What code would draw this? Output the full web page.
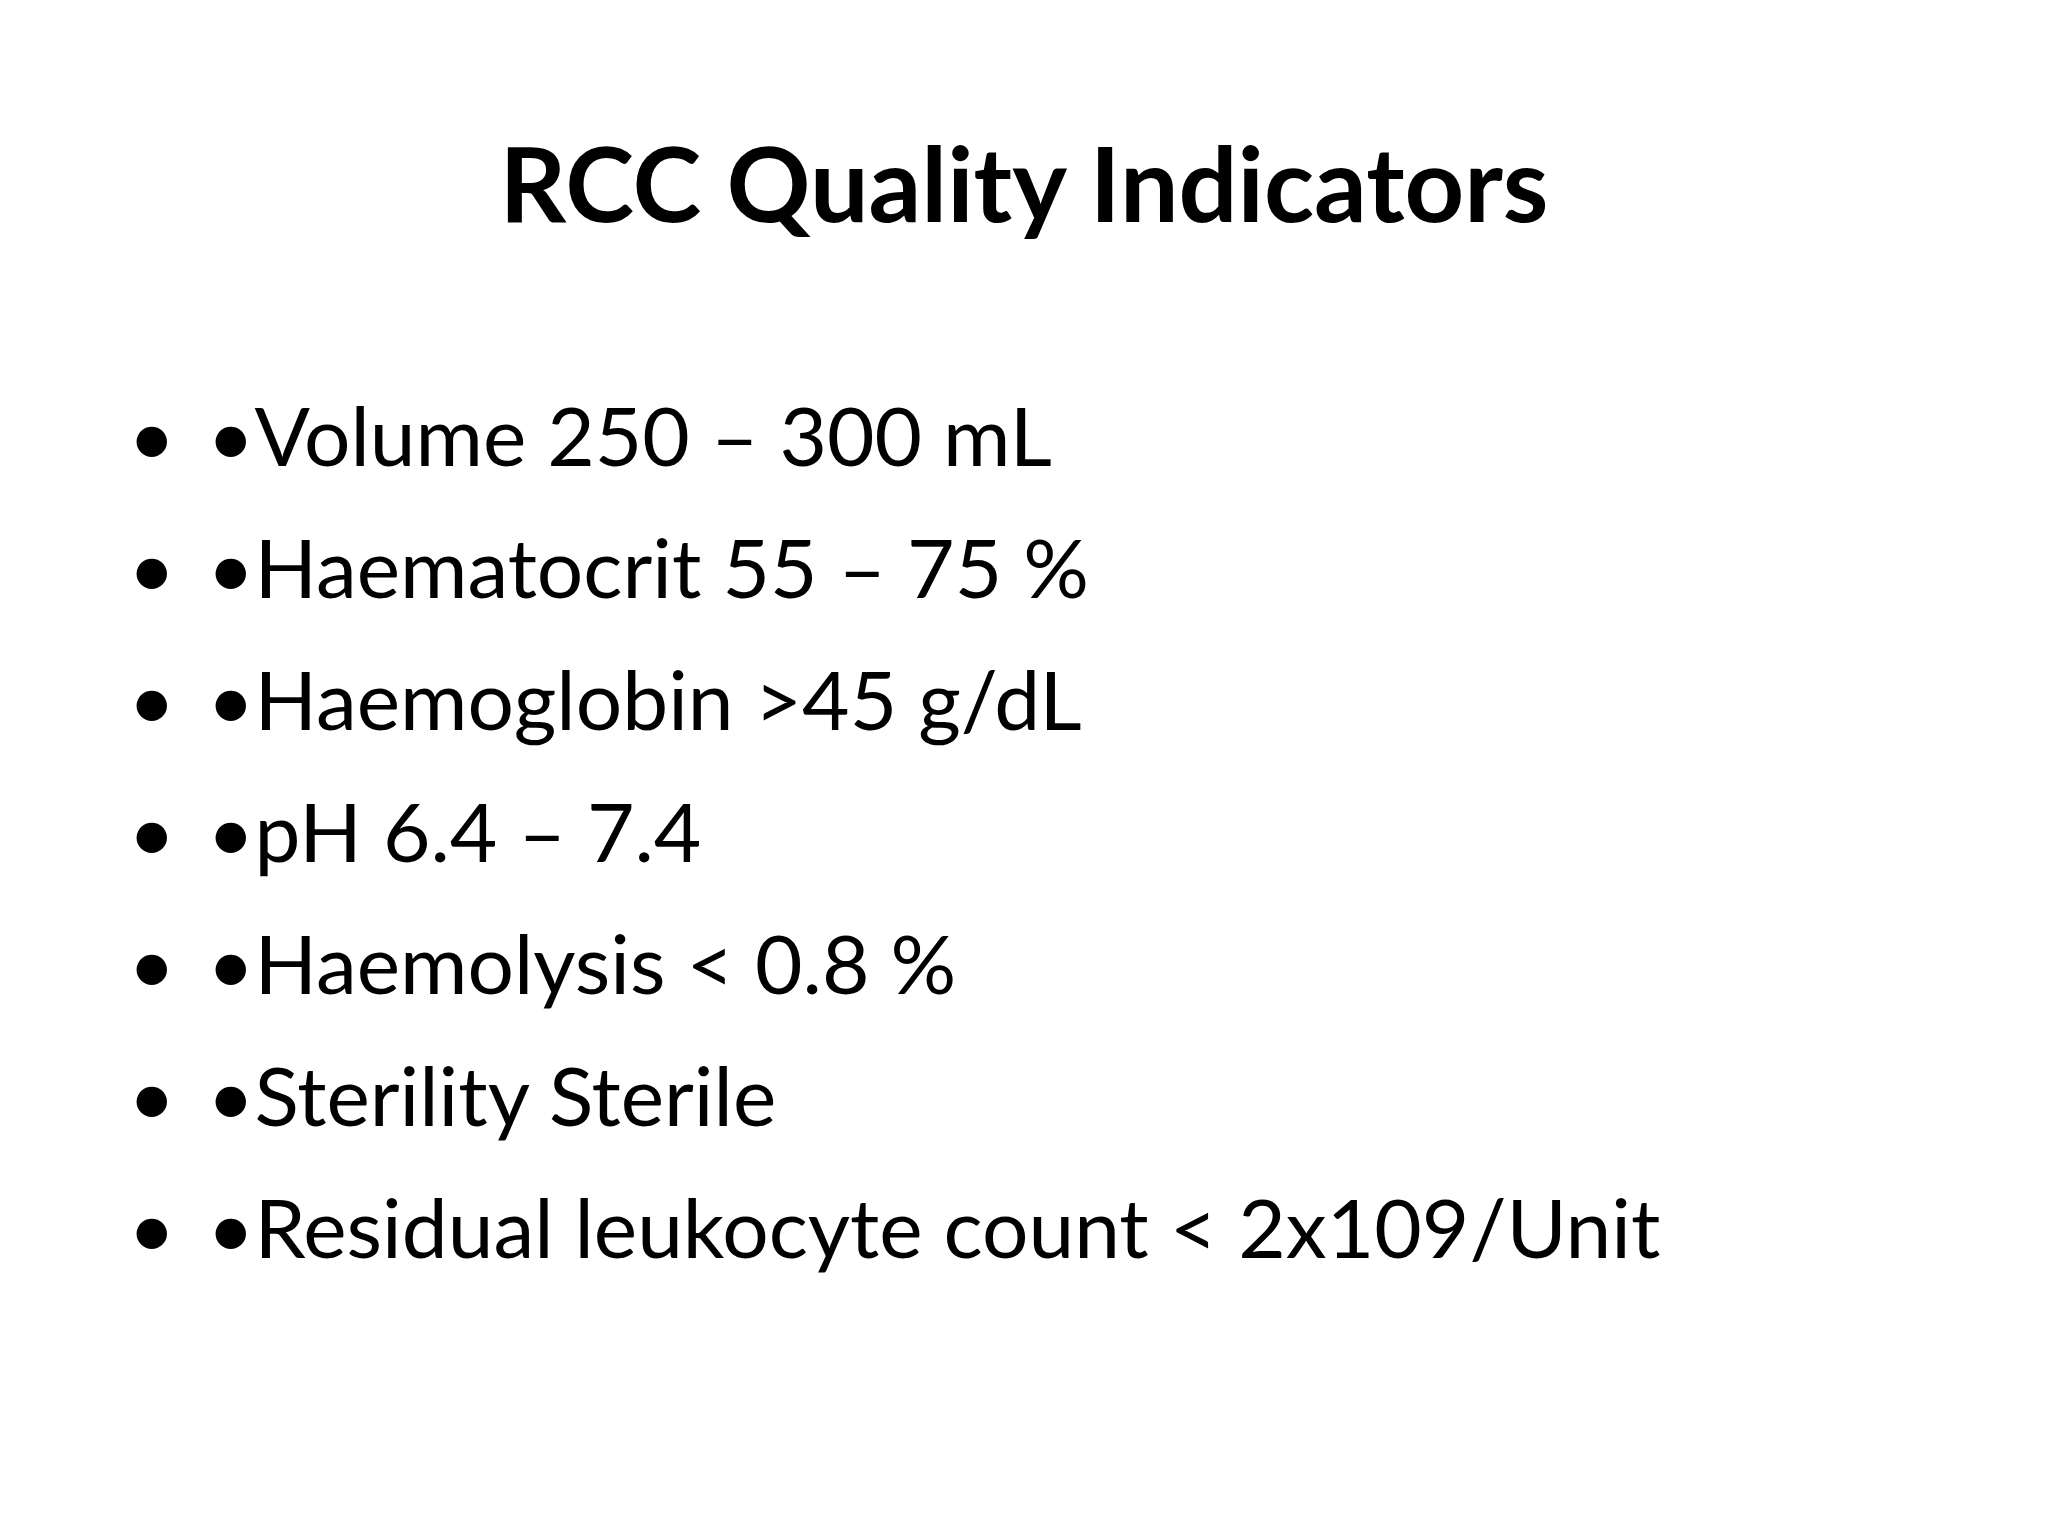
<!DOCTYPE html>
<html><head><meta charset="utf-8">
<script src="https://cdn.jsdelivr.net/npm/chart.js@4.4.0/dist/chart.umd.min.js"></script>
<style>
html,body{margin:0;padding:0;background:#fff;width:2048px;height:1536px;overflow:hidden;font-family:Lato,"Open Sans",sans-serif;color:#000}
#title{position:absolute;left:0;width:2048px;top:130px;text-align:center;font-weight:bold;font-size:104px;line-height:1}
.row{position:absolute;left:0;font-size:82px;line-height:1;white-space:nowrap}
.b{position:absolute;left:128px}
.t{position:absolute;left:207px}
</style></head><body>
<div id="title"></div>
<div id="list"></div>
<script>
const titleText = "RCC Quality Indicators";
const items = [
  "•Volume 250 – 300 mL",
  "•Haematocrit 55 – 75 %",
  "•Haemoglobin >45 g/dL",
  "•pH 6.4 – 7.4",
  "•Haemolysis < 0.8 %",
  "•Sterility Sterile",
  "•Residual leukocyte count < 2x109/Unit"
];
document.getElementById('title').textContent = titleText;
const list = document.getElementById('list');
items.forEach((s, i) => {
  const r = document.createElement('div');
  r.className = 'row';
  r.style.top = (393 + i * 132) + 'px';
  const b = document.createElement('span'); b.className = 'b'; b.textContent = '•';
  const t = document.createElement('span'); t.className = 't'; t.textContent = s;
  r.appendChild(b); r.appendChild(t); list.appendChild(r);
});
</script>
</body></html>
